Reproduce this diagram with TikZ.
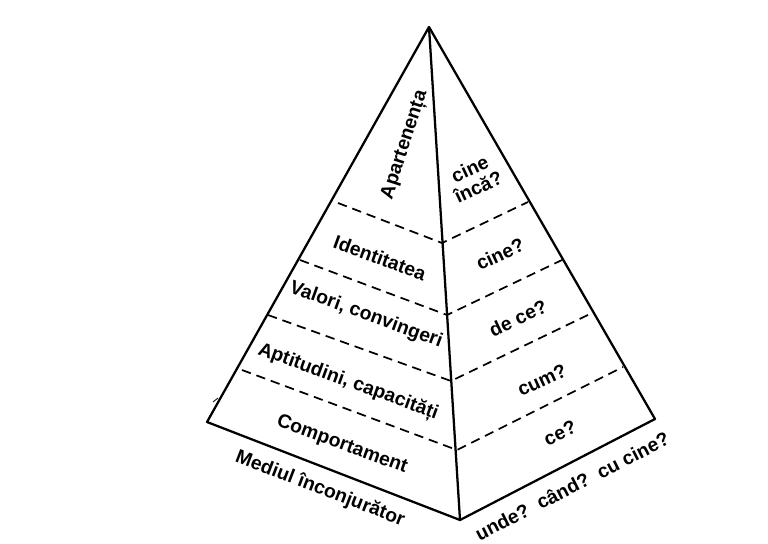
\documentclass[tikz,border=0pt]{standalone}
\usepackage{fontspec}
\setmainfont{Liberation Sans}
\begin{document}
\begin{tikzpicture}[x=0.75pt,y=-0.75pt,
 edge/.style={line width=1.7pt},
 lvl/.style={line width=1.3pt,dash pattern=on 7pt off 4.5pt},
 lab/.style={font=\fontsize{14.5}{15}\selectfont\bfseries,inner sep=0pt,align=center}]
\useasboundingbox (0,0) rectangle (768,543);
\coordinate (A) at (429,27);
\coordinate (L) at (207,422);
\coordinate (F) at (460,520);
\coordinate (R) at (655,419);
\draw[edge,line join=round] (A) -- (L) -- (F) -- (R) -- cycle;
\draw[edge] (A) -- (F);
\draw[line width=0.6pt] (213,402) -- (218,398);
% levels
\coordinate (l1) at (338,203); \coordinate (f1) at (442,243); \coordinate (r1) at (528,202);
\coordinate (l2) at (300,260); \coordinate (f2) at (447,315); \coordinate (r2) at (562,260);
\coordinate (l3) at (268,315); \coordinate (f3) at (451,381); \coordinate (r3) at (592,313);
\coordinate (l4) at (242,370); \coordinate (f4) at (457,450); \coordinate (r4) at (623,367);
\foreach \i in {1,...,4}{\draw[lvl] (l\i) -- (f\i) -- (r\i);}
\node[lab,rotate=72] (t0) at (405,145) {Apartenența};
\node[lab,rotate=25] (q0) at (474,178) {cine\\încă?};
\node[lab,rotate=-20] (t1) at (380,258) {Identitatea};
\node[lab,rotate=25] (q1) at (500,254) {cine?};
\node[lab,rotate=-20] (t2) at (366,315) {Valori, convingeri};
\node[lab,rotate=25] (q2) at (518,318) {de ce?};
\node[lab,rotate=-20] (t3) at (348,382) {Aptitudini, capacități};
\node[lab,rotate=25] (q3) at (542,380) {cum?};
\node[lab,rotate=-20] (t4) at (342,445) {Comportament};
\node[lab,rotate=25] (q4) at (560,433) {ce?};
\node[lab,rotate=-21] (t5) at (320,489) {Mediul înconjurător};
\node[lab,rotate=27] (q5) at (572,486) {unde?\ \ când?\ \ cu cine?};
\end{tikzpicture}
\end{document}
